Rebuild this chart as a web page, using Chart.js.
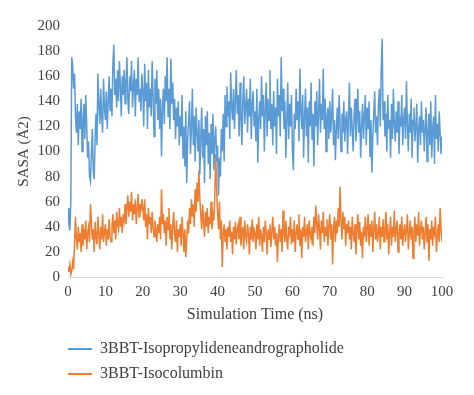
<!DOCTYPE html>
<html>
<head>
<meta charset="utf-8">
<script src="https://cdn.jsdelivr.net/npm/chart.js@4/dist/chart.umd.min.js"></script>
<style>
html,body{margin:0;padding:0;background:#fff;}
#wrap{position:relative;width:474px;height:395px;}
</style>
</head>
<body>
<div id="wrap"><canvas id="c" width="474" height="395"></canvas></div>
<script>
// Time axis (ns), one sample every 0.25 ns
const timeNs = [];
for (let i = 0; i <= 400; i++) timeNs.push(i / 4);

const seriesNames = ["3BBT-Isopropylideneandrographolide", "3BBT-Isocolumbin"];
const seriesColors = ["#5B9BD5", "#ED7D31"];

const sasaIsopropylidene = [
  55, 42, 37, 60, 175, 168, 150, 162, 128, 115, 138, 105, 132, 118, 142, 100, 125, 138, 110, 145,
  120, 95, 108, 80, 76, 98, 118, 85, 78, 112, 130, 105, 162, 138, 122, 150, 128, 115, 158, 135,
  125, 148, 118, 140, 160, 132, 150, 128, 170, 185, 145, 158, 135, 165, 140, 172, 152, 128, 160, 145,
  165, 138, 155, 175, 142, 130, 160, 148, 172, 135, 152, 165, 128, 158, 145, 175, 140, 150, 132, 162,
  148, 120, 170, 140, 155, 118, 165, 135, 150, 128, 172, 145, 112, 158, 138, 165, 125, 150, 118, 142,
  96, 135, 150, 122, 160, 140, 175, 128, 150, 118, 174, 138, 155, 125, 142, 110, 135, 120, 140, 105,
  128, 112, 145, 95, 120, 88, 132, 75, 110, 125, 140, 98, 118, 150, 105, 128, 92, 135, 115, 100,
  125, 82, 112, 135, 95, 118, 75, 128, 105, 132, 90, 115, 78, 122, 98, 130, 85, 110, 120, 92,
  105, 65, 95, 80, 118, 100, 130, 92, 145, 120, 152, 128, 140, 110, 163, 135, 125, 150, 118, 140,
  165, 130, 145, 112, 155, 125, 105, 140, 160, 122, 135, 150, 115, 142, 128, 158, 110, 138, 148, 120,
  132, 108, 150, 91, 125, 140, 118, 160, 128, 145, 100, 135, 155, 112, 142, 125, 165, 118, 138, 105,
  148, 120, 135, 98, 158, 128, 145, 112, 175, 132, 150, 118, 140, 95, 125, 155, 110, 138, 120, 145,
  102, 85, 130, 118, 150, 125, 140, 108, 166, 132, 118, 145, 95, 128, 150, 112, 135, 91, 140, 120,
  155, 110, 130, 88, 140, 120, 148, 105, 132, 158, 115, 138, 125, 166, 118, 142, 100, 128, 135, 110,
  140, 115, 128, 150, 105, 125, 93, 118, 135, 110, 145, 122, 100, 130, 115, 140, 108, 125, 132, 98,
  128, 155, 112, 135, 118, 100, 130, 142, 108, 125, 150, 115, 132, 95, 120, 138, 110, 128, 145, 105,
  135, 118, 140, 96, 125, 83, 112, 130, 148, 115, 128, 105, 138, 150, 120, 165, 190, 125, 140, 112,
  130, 100, 145, 118, 125, 95, 138, 110, 150, 122, 108, 132, 115, 140, 98, 128, 120, 145, 105, 125,
  135, 110, 156, 120, 100, 130, 115, 142, 95, 125, 135, 108, 120, 138, 91, 118, 128, 105, 140, 115,
  125, 100, 120, 135, 92, 115, 130, 105, 140, 95, 118, 128, 90, 145, 110, 122, 100, 132, 115, 98,
  112
];

const sasaIsocolumbin = [
  8, 4, 10, 2, 5, 12, 6, 28, 48, 30, 22, 40, 28, 35, 20, 42, 25, 38, 30, 45,
  22, 35, 40, 28, 58, 45, 30, 38, 20, 44, 32, 26, 48, 35, 22, 40, 30, 50, 28, 36,
  42, 25, 38, 30, 46, 32, 28, 40, 50, 35, 45, 30, 52, 42, 38, 55, 40, 48, 35, 50,
  45, 58, 42, 55, 65, 48, 60, 52, 68, 45, 58, 50, 62, 42, 55, 66, 48, 58, 52, 62,
  55, 45, 62, 40, 50, 30, 55, 42, 48, 35, 52, 40, 32, 45, 38, 28, 42, 35, 48, 30,
  70, 42, 50, 35, 45, 25, 48, 38, 55, 30, 42, 22, 40, 52, 35, 28, 45, 20, 38, 32,
  42, 25, 48, 35, 20, 38, 16, 30, 45, 35, 55, 42, 62, 48, 58, 40, 70, 52, 75, 60,
  85, 62, 50, 38, 58, 45, 32, 52, 40, 55, 35, 48, 42, 60, 38, 50, 45, 65, 98, 70,
  50, 38, 60, 30, 45, 8, 35, 42, 28, 38, 22, 40, 32, 45, 28, 36, 18, 40, 30, 44,
  26, 38, 42, 30, 48, 25, 35, 40, 22, 45, 32, 28, 42, 35, 18, 40, 30, 46, 28, 38,
  35, 22, 42, 30, 48, 25, 38, 32, 20, 40, 28, 45, 35, 18, 38, 30, 42, 24, 36, 48,
  30, 40, 25, 35, 12, 32, 42, 28, 38, 20, 53, 35, 28, 45, 30, 22, 40, 35, 48, 26,
  38, 28, 45, 20, 35, 42, 30, 50, 25, 38, 15, 40, 32, 48, 28, 36, 42, 22, 45, 35,
  30, 40, 25, 48, 35, 57, 42, 30, 50, 38, 22, 45, 35, 52, 28, 40, 33, 46, 25, 42,
  50, 30, 42, 10, 38, 48, 28, 45, 35, 55, 40, 72, 45, 30, 52, 38, 48, 25, 42, 35,
  45, 30, 40, 22, 48, 35, 28, 42, 18, 38, 50, 30, 44, 25, 36, 15, 40, 32, 48, 28,
  38, 50, 25, 42, 32, 45, 20, 38, 52, 30, 42, 28, 35, 48, 22, 40, 32, 46, 28, 38,
  52, 30, 42, 18, 36, 48, 25, 40, 32, 53, 28, 38, 45, 20, 35, 42, 30, 48, 25, 36,
  42, 28, 38, 50, 22, 35, 45, 30, 40, 15, 36, 48, 28, 42, 33, 52, 25, 38, 45, 30,
  40, 22, 35, 48, 28, 42, 13, 38, 30, 45, 25, 40, 35, 48, 20, 32, 42, 28, 55, 38,
  28
];

const yTicks = [0, 20, 40, 60, 80, 100, 120, 140, 160, 180, 200];
const xTicks = [0, 10, 20, 30, 40, 50, 60, 70, 80, 90, 100];

const FONT = "'Liberation Serif', 'DejaVu Serif', serif";
const TEXT = "#404040";

const toPts = (arr) => arr.map((v, i) => ({ x: timeNs[i], y: v }));

const legendBelow = {
  id: 'legendBelow',
  afterDraw(chart) {
    const ctx = chart.ctx;
    const left = chart.chartArea.left;
    const rows = [349, 374];
    ctx.save();
    chart.data.datasets.forEach((ds, i) => {
      const y = rows[i];
      ctx.strokeStyle = ds.borderColor;
      ctx.lineWidth = 2;
      ctx.beginPath();
      ctx.moveTo(left, y);
      ctx.lineTo(left + 24, y);
      ctx.stroke();
      ctx.fillStyle = TEXT;
      ctx.font = "16px " + FONT;
      ctx.textBaseline = 'middle';
      ctx.textAlign = 'left';
      ctx.fillText(ds.label, left + 32, y);
    });
    ctx.restore();
  }
};

new Chart(document.getElementById('c'), {
  type: 'line',
  data: {
    datasets: [
      { label: seriesNames[0], data: toPts(sasaIsopropylidene), borderColor: seriesColors[0], borderWidth: 1.5, pointRadius: 0, tension: 0, fill: false },
      { label: seriesNames[1], data: toPts(sasaIsocolumbin), borderColor: seriesColors[1], borderWidth: 1.5, pointRadius: 0, tension: 0, fill: false }
    ]
  },
  options: {
    responsive: false,
    animation: false,
    devicePixelRatio: 1,
    layout: { padding: { top: 26, left: 0, right: 32, bottom: 71 } },
    plugins: { legend: { display: false }, tooltip: { enabled: false } },
    scales: {
      x: {
        type: 'linear', min: 0, max: 100,
        afterBuildTicks: (s) => { s.ticks = xTicks.map(v => ({ value: v })); },
        afterFit: (s) => { s.height = 47; },
        grid: { display: false, drawTicks: false },
        border: { display: true, color: '#d9d9d9', width: 1 },
        ticks: { color: TEXT, font: { family: FONT, size: 15 }, padding: 6, maxRotation: 0 },
        title: { display: true, text: 'Simulation Time (ns)', color: TEXT, font: { family: FONT, size: 16 }, padding: 0 }
      },
      y: {
        min: 0, max: 200,
        afterBuildTicks: (s) => { s.ticks = yTicks.map(v => ({ value: v })); },
        afterFit: (s) => { s.width = 68; },
        grid: { display: false, drawTicks: false },
        border: { display: false },
        ticks: { color: TEXT, font: { family: FONT, size: 15 }, padding: 8 },
        title: { display: true, text: 'SASA (Å2)', color: TEXT, font: { family: FONT, size: 15 }, padding: { top: 15, bottom: 0 } }
      }
    }
  },
  plugins: [legendBelow]
});
</script>
</body>
</html>
